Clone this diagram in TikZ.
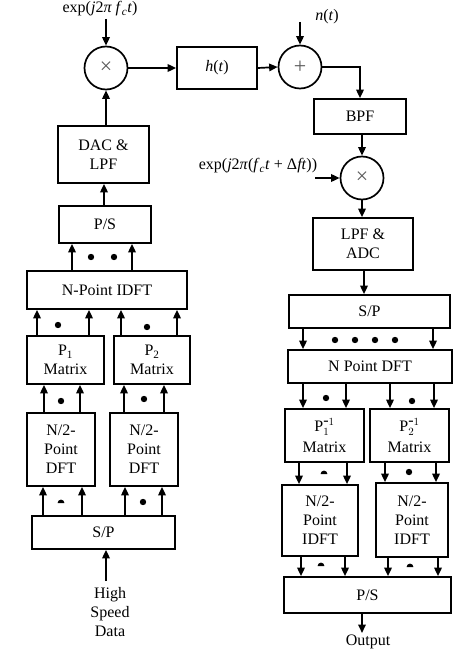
\documentclass[tikz,border=0pt]{standalone}
\usepackage{fontspec}
\setmainfont{Liberation Serif}
\usetikzlibrary{arrows.meta}
\begin{document}
\begin{tikzpicture}[x=1pt,y=-1pt,
  every node/.style={font=\fontsize{16}{19}\selectfont},
  blk/.style={draw,line width=1.7pt,inner sep=0pt,align=center},
  mix/.style={draw,circle,line width=1.7pt,minimum size=43pt,inner sep=0pt,font=\fontsize{22}{22}\selectfont\color{black!65}},
  arr/.style={line width=1.7pt,-{Triangle[length=8.5pt,width=7.5pt]}},
  lbl/.style={inner sep=0pt,align=center}]
\useasboundingbox (0,0) rectangle (474,671);
% transmitter
\node[mix] (m1) at (106,68) {×};
\node[blk,minimum width=80pt,minimum height=42pt] (ht) at (217,68) {\textit{h}(\textit{t})};
\node[mix] (add) at (300,67) {+};
\node[blk,minimum width=91pt,minimum height=57pt] (dac) at (103.5,154.5) {DAC \&\\LPF};
\node[blk,minimum width=92pt,minimum height=37pt] (ps1) at (105,224.5) {P/S};
\node[blk,minimum width=160pt,minimum height=38pt] (idft) at (107,290) {N-Point IDFT};
\node[blk,minimum width=77pt,minimum height=48pt] (p1) at (65.5,360) {P\textsubscript{1}\\Matrix};
\node[blk,minimum width=76pt,minimum height=48pt] (p2) at (152,360) {P\textsubscript{2}\\Matrix};
\node[blk,minimum width=68pt,minimum height=73pt] (dft1) at (61,449.5) {N/2-\\Point\\DFT};
\node[blk,minimum width=68pt,minimum height=73pt] (dft2) at (144,449.5) {N/2-\\Point\\DFT};
\node[blk,minimum width=143pt,minimum height=33pt] (sp1) at (103.5,532.5) {S/P};
\node[lbl] (hsd) at (110,612) {High\\Speed\\Data};
\node[lbl] (e1) at (100,9) {exp(\textit{j}2\textit{π f}\textsubscript{\textit{c}}\textit{t})};
\coordinate (e1a) at (106,19);
% receiver
\node[lbl] (nt) at (327,17) {\textit{n}(\textit{t})};
\coordinate (nta) at (300,22);
\node[blk,minimum width=92pt,minimum height=35pt] (bpf) at (360,116.5) {BPF};
\node[mix] (m2) at (362,178) {×};
\node[lbl] (e2) at (258,166) {exp(\textit{j}2\textit{π}(\textit{f}\textsubscript{\textit{c}}\textit{t} + Δ\textit{ft}))};
\coordinate (e2a) at (315,178);
\node[blk,minimum width=100pt,minimum height=52pt] (lpf) at (363,244) {LPF \&\\ADC};
\node[blk,minimum width=161pt,minimum height=33pt] (sp2) at (369.5,311.5) {S/P};
\node[blk,minimum width=164pt,minimum height=33pt] (ndft) at (370,366.5) {N Point DFT};
\node[blk,minimum width=79pt,minimum height=53pt] (q1) at (324.5,435.5) {P$_{1}^{\textrm{-}1}$\\[2pt]Matrix};
\node[blk,minimum width=79pt,minimum height=53pt] (q2) at (409.5,435.5) {P$_{2}^{\textrm{-}1}$\\[2pt]Matrix};
\node[blk,minimum width=76pt,minimum height=71pt] (idft1) at (320,520.5) {N/2-\\Point\\IDFT};
\node[blk,minimum width=72pt,minimum height=74pt] (idft2) at (412,520) {N/2-\\Point\\IDFT};
\node[blk,minimum width=167pt,minimum height=36pt] (ps2) at (367.5,595) {P/S};
\node[lbl] (out) at (368,642) {Output};
\coordinate (outa) at (362,633);
% transmitter connectors
\draw[arr] (e1a) -- (m1.north);
\draw[arr] (m1.east) -- (ht.west);
\draw[arr] (ht.east) -- (add.west);
\draw[arr] (dac.north -| m1.south) -- (m1.south);
\draw[arr] (104,0 |- ps1.north) -- (104,0 |- dac.south);
\foreach \x in {72,132} \draw[arr] (\x,0 |- idft.north) -- (\x,0 |- ps1.south);
\foreach \x in {37,89} \draw[arr] (\x,0 |- p1.north) -- (\x,0 |- idft.south);
\foreach \x in {121,177} \draw[arr] (\x,0 |- p2.north) -- (\x,0 |- idft.south);
\foreach \x in {44,80} \draw[arr] (\x,0 |- dft1.north) -- (\x,0 |- p1.south);
\foreach \x in {124,164} \draw[arr] (\x,0 |- dft2.north) -- (\x,0 |- p2.south);
\foreach \x in {43,82} \draw[arr] (\x,0 |- sp1.north) -- (\x,0 |- dft1.south);
\foreach \x in {125,162} \draw[arr] (\x,0 |- sp1.north) -- (\x,0 |- dft2.south);
\draw[arr] (106,581) -- (106,0 |- sp1.south);
% receiver connectors
\draw[arr] (nta) -- (add.north);
\draw[arr] (add.east) -| (bpf.north);
\draw[arr] (bpf.south -| m2.north) -- (m2.north);
\draw[arr] (e2a) -- (m2.west);
\draw[arr] (m2.south) -- (m2.south |- lpf.north);
\draw[arr] (364,0 |- lpf.south) -- (364,0 |- sp2.north);
\foreach \x in {303,433} \draw[arr] (\x,0 |- sp2.south) -- (\x,0 |- ndft.north);
\foreach \x in {303,346} \draw[arr] (\x,0 |- ndft.south) -- (\x,0 |- q1.north);
\foreach \x in {390,434} \draw[arr] (\x,0 |- ndft.south) -- (\x,0 |- q2.north);
\foreach \x in {299,347} \draw[arr] (\x,0 |- q1.south) -- (\x,0 |- idft1.north);
\foreach \x in {385,436} \draw[arr] (\x,0 |- q2.south) -- (\x,0 |- idft2.north);
\foreach \x in {301,345} \draw[arr] (\x,0 |- idft1.south) -- (\x,0 |- ps2.north);
\foreach \x in {388,438} \draw[arr] (\x,0 |- idft2.south) -- (\x,0 |- ps2.north);
\draw[arr] (ps2.south -| outa) -- (outa);
% dots
\foreach \p in {(91,257),(114,257),(58,325),(147,327),(61,401),(144,399),(143,502),
  (335,340),(355,340),(375,340),(395,340),(326,398),(412,401),(409,472)}
  \fill \p circle[radius=3.2];
\foreach \p in {(61,503),(324,474),(321,566),(410,567)}
  \fill \p ++(-3.4,0) arc[start angle=180,end angle=360,radius=3.4] -- cycle;
\end{tikzpicture}
\end{document}
